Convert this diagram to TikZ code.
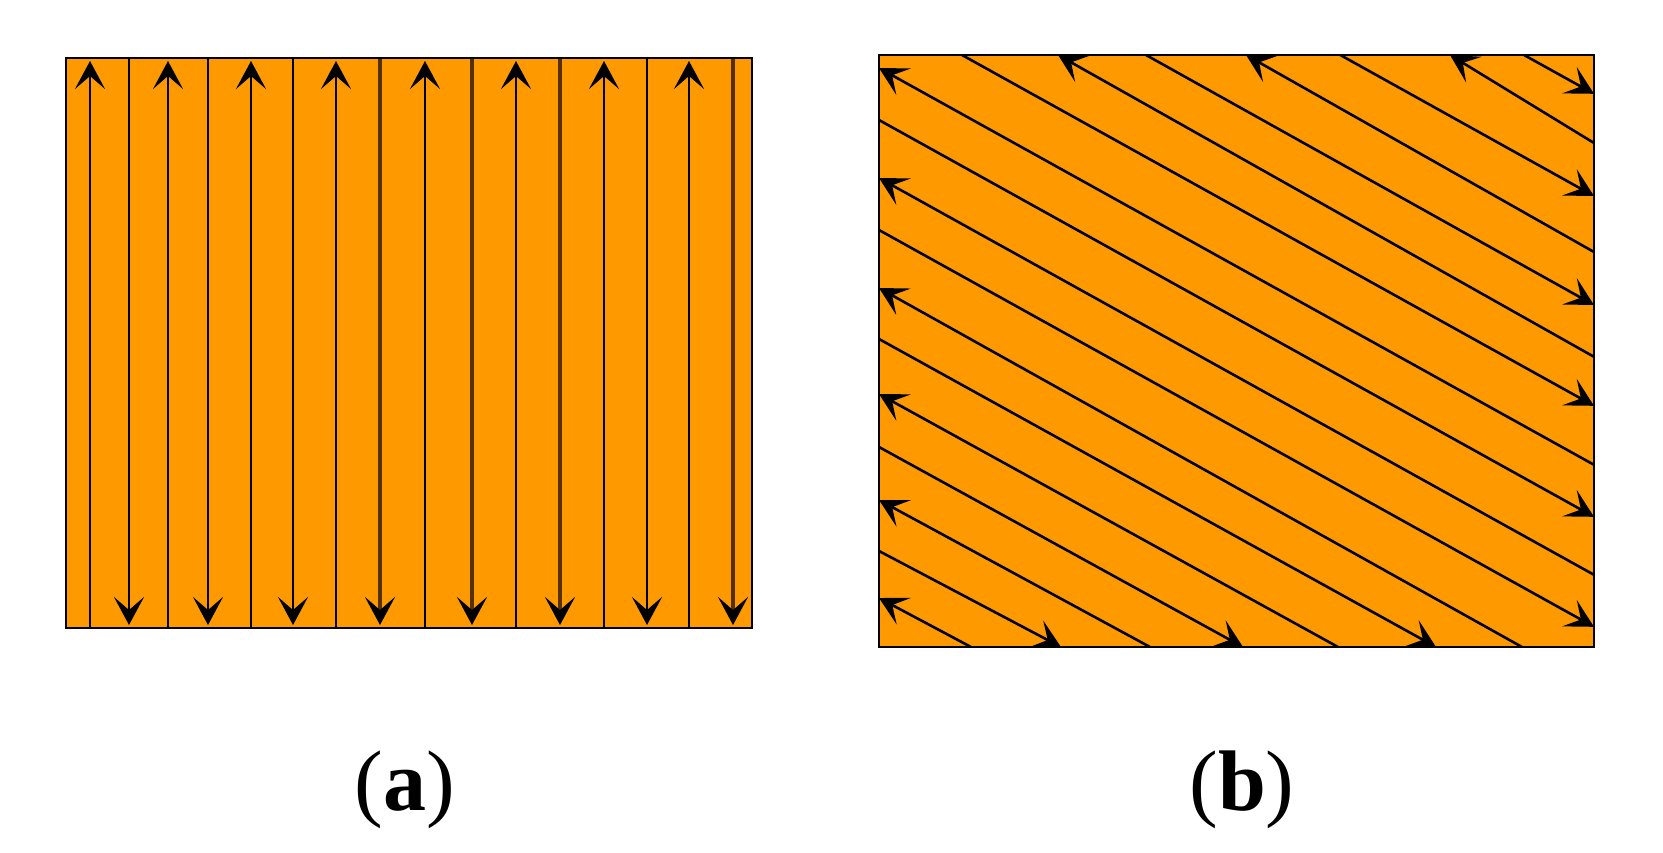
\documentclass[tikz,border=0pt]{standalone}
\usepackage{fontspec}
\setmainfont{Liberation Serif}
\usetikzlibrary{arrows.meta}
\definecolor{fillorange}{RGB}{255,153,0}
\definecolor{darkbrown}{RGB}{85,48,0}
\tikzset{
  panelfill/.style={fill=fillorange, draw=none},
  panelframe/.style={draw=black, line width=1.3pt},
  flowline/.style={draw=black, line width=1.3pt, -{Stealth[length=14pt,width=15pt,inset=6.5pt,color=black]}},
  brownline/.style={flowline, draw=darkbrown, line width=1.6pt},
  panellabel/.style={font=\fontsize{43}{50}\selectfont, anchor=base, inner sep=0pt},
}
\begin{document}
\begin{tikzpicture}[x=0.5pt,y=-0.5pt]
\path[use as bounding box] (0,0) rectangle (1663,852);
% ---------- panel (a)
\fill[panelfill] (66,58) rectangle (752,628);
\foreach \x in {90,168,251,336,425,516,604,689}
  \draw[flowline] (\x,628) -- (\x,61);
\foreach \x in {129,208,293,647}
  \draw[flowline] (\x,58) -- (\x,625);
\foreach \x in {380,472,560,733}
  \draw[brownline] (\x,58) -- (\x,625);
\draw[panelframe] (66,58) rectangle (752,628);
% ---------- panel (b)
\fill[panelfill] (879,55) rectangle (1594,647);
% arrows pointing to the upper left
\foreach \xa/\ya/\xb/\yb in {971/647/879/598, 1150/647/879/500, 1338/647/879/394,
  1522/647/879/288, 1594/574.8/879/178, 1594/464.8/879/68, 1594/356.8/1058/55,
  1594/252/1246/55, 1594/143/1450/55}
  \draw[flowline] (\xa,\ya) -- (\xb,\yb);
% arrows pointing to the lower right
\foreach \xa/\ya/\xb/\yb in {879/551/1061/647, 879/447/1243/647, 879/339/1436/647,
  879/230/1594/626.8, 879/120/1594/516.8, 962/55/1594/405.8, 1146/55/1594/305,
  1340.3/55/1594/196, 1524/55/1594/93.8}
  \draw[flowline] (\xa,\ya) -- (\xb,\yb);
\draw[panelframe] (879,55) rectangle (1594,647);
% ---------- labels
\node[panellabel] (la) at (405,810) {(\textbf{a})};
\node[panellabel] (lb) at (1242,810) {(\textbf{b})};
\end{tikzpicture}
\end{document}
